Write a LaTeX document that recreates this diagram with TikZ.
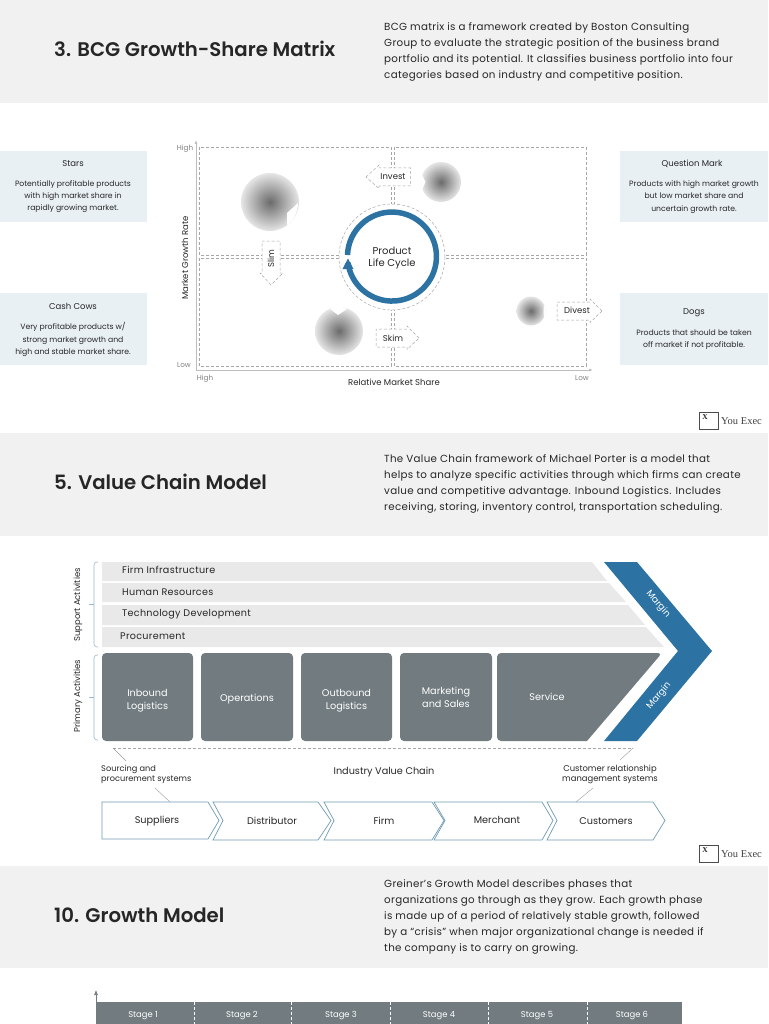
\documentclass[tikz,border=0pt]{standalone}
\usepackage{fontspec}
\setmainfont{Poppins}
\newfontfamily\titlefont{Poppins SemiBold}
\newfontfamily\serifmark{Liberation Serif}
\usetikzlibrary{arrows.meta}
\definecolor{bandgrey}{HTML}{F1F1F1}
\definecolor{infoblue}{HTML}{E9F0F4}
\definecolor{axisgrey}{HTML}{BDBDBD}
\definecolor{dashgrey}{HTML}{A6A6A6}
\definecolor{supportgrey}{HTML}{E9E9E9}
\definecolor{primarygrey}{HTML}{727C80}
\definecolor{marginblue}{HTML}{2C72A2}
\definecolor{chainblue}{HTML}{6F9BB3}
\definecolor{inktext}{HTML}{262626}
\begin{document}
\begin{tikzpicture}[x=1pt,y=-1pt,text=inktext,
  band/.style={fill=bandgrey,draw=none},
  title/.style={anchor=west,inner sep=0pt,font=\titlefont\fontsize{19.7}{22}\selectfont},
  intro/.style={anchor=west,inner sep=0pt,align=left,font=\fontsize{10.3}{15.8}\selectfont\addfontfeature{LetterSpace=3}},
  info/.style={fill=infoblue,inner sep=0pt,minimum width=147pt,minimum height=71.5pt},
  infotext/.style={inner sep=0pt,align=center,font=\fontsize{7.7}{12.3}\selectfont},
  small/.style={inner sep=0pt,font=\fontsize{8.5}{10}\selectfont},
  tiny/.style={inner sep=0pt,text=gray,font=\fontsize{7.2}{8}\selectfont},
  quad/.style={draw=dashgrey,densely dashed,line width=.5pt},
  blockarrow/.style={draw=dashgrey,densely dashed,line width=.5pt,fill=white},
  spot/.style={circle,inner sep=0pt,inner color=black!58,outer color=black!10},
  support/.style={fill=supportgrey,draw=none},
  supporttext/.style={anchor=west,inner sep=0pt,font=\fontsize{9.6}{10}\selectfont\addfontfeature{LetterSpace=3}},
  primary/.style={fill=primarygrey,rounded corners=4pt,inner sep=0pt,text=white,align=center,
    minimum height=88pt,font=\fontsize{9.7}{13}\selectfont},
  bracket/.style={draw=chainblue!70,line width=.6pt},
  thin/.style={draw=gray!80,line width=.4pt},
  chain/.style={draw=chainblue,fill=white,line width=.7pt},
  chaintext/.style={inner sep=0pt,font=\fontsize{9.7}{10}\selectfont},
  note/.style={inner sep=0pt,font=\fontsize{8.2}{10.5}\selectfont},
  stage/.style={inner sep=0pt,text=white,font=\fontsize{8.4}{9}\selectfont},
  ]
\useasboundingbox (0,0) rectangle (768,1024);

% header bands
\fill[band] (0,0) rectangle (768,103);
\fill[band] (0,433) rectangle (768,536);
\fill[band] (0,866) rectangle (768,968);
\node[title] (bcgtitle) at (54,49) {3. BCG Growth-Share Matrix};
\node[title] (chaintitle) at (54,482) {5. Value Chain Model};
\node[title] (growthtitle) at (54,915) {10. Growth Model};
\node[intro] (bcgintro) at (384,52) {BCG matrix is a framework created by Boston Consulting\\Group to evaluate the strategic position of the business brand\\portfolio and its potential. It classifies business portfolio into four\\categories based on industry and competitive position.};
\node[intro] (chainintro) at (384,484) {The Value Chain framework of Michael Porter is a model that\\helps to analyze specific activities through which firms can create\\value and competitive advantage. Inbound Logistics. Includes\\receiving, storing, inventory control, transportation scheduling.};
\node[intro] (growthintro) at (384,917) {Greiner's Growth Model describes phases that\\organizations go through as they grow. Each growth phase\\is made up of a period of relatively stable growth, followed\\by a ``crisis'' when major organizational change is needed if\\the company is to carry on growing.};

% info boxes
\node[info] (stars) at (73,186.5) {};
\node[info] (cows) at (73,329) {};
\node[info,minimum width=148pt] (question) at (694,186.5) {};
\node[info,minimum width=148pt] (dogs) at (694,329) {};
\node[small] (starshead) at (73,164) {Stars};
\node[infotext] (starstext) at (73,196.5) {Potentially profitable products\\with high market share in\\rapidly growing market.};
\node[small] (cowshead) at (73,306) {Cash Cows};
\node[infotext] (cowstext) at (73,339.5) {Very profitable products w/\\strong market growth and\\high and stable market share.};
\node[small] (questionhead) at (692,164) {Question Mark};
\node[infotext] (questiontext) at (694,197) {Products with high market growth\\but low market share and\\uncertain growth rate.};
\node[small] (dogshead) at (694,313) {Dogs};
\node[infotext] (dogstext) at (694,340) {Products that should be taken\\off market if not profitable.};

% matrix
\coordinate (origin) at (196,370);
\coordinate (ytop) at (196,140);
\coordinate (xend) at (593,370);
\draw[axisgrey,line width=.8pt,-{Latex[length=4pt,width=3pt]}] (origin) -- (ytop);
\draw[axisgrey,line width=.8pt,-{Latex[length=4pt,width=3pt]}] (origin) -- (xend);
\draw[quad] (199,147) rectangle (391,255);
\draw[quad] (394,147) rectangle (586,255);
\draw[quad] (199,258) rectangle (391,366);
\draw[quad] (394,258) rectangle (586,366);
\node[tiny] (yhigh) at (185,149) {High};
\node[tiny] (ylow) at (184,365) {Low};
\node[tiny] (xhigh) at (205,379) {High};
\node[tiny] (xlow) at (582,378) {Low};
\node[small,rotate=90] (ylabel) at (185,258) {Market Growth Rate};
\node[small] (xlabel) at (394,382) {Relative Market Share};

% life cycle
\node[circle,draw=dashgrey,densely dashed,line width=.5pt,fill=white,minimum size=106pt,inner sep=0pt] (cycle) at (392,257) {};
\draw[marginblue,line width=5.5pt] (347.5,255) arc[start angle=178,end angle=-172,radius=44.5pt];
\fill[marginblue] (348,258.5) -- (353.5,269) -- (342.5,269) -- cycle;
\node[inner sep=0pt,align=center,font=\fontsize{10}{12.3}\selectfont] (cycletext) at (392,258) {Product\\Life Cycle};

% spots
\node[spot,minimum size=58pt] (spotstar) at (270,202) {};
\fill[white] (298,203) .. controls (292,208) .. (287,213) -- (287,225) .. controls (293,222) and (298,212) .. cycle;
\node[spot,minimum size=40pt] (spotquestion) at (441,182) {};
\fill[white] (421.5,174) -- (425.5,182) -- (422,190) .. controls (420.5,185) and (420.5,178) .. cycle;
\node[spot,minimum size=48pt] (spotcow) at (339,331) {};
\fill[white] (330,309) -- (338,315) -- (347,309) .. controls (343,306) and (334,306) .. cycle;
\node[spot,minimum size=29pt] (spotdog) at (531,311) {};
\fill[white] (544,305) -- (543.5,312) -- (544,318) .. controls (546,313) and (546,309) .. cycle;

% block arrows
\draw[blockarrow] (366,177) -- (379,165) -- (379,168) -- (410.5,168) -- (410.5,186) -- (379,186) -- (379,188.5) -- cycle;
\node[small] (invest) at (393,177) {Invest};
\draw[blockarrow] (271,285) -- (260,273) -- (262,273) -- (262,241) -- (280,241) -- (280,273) -- (283,273) -- cycle;
\node[small,rotate=90] (slim) at (271,259) {Slim};
\draw[blockarrow] (419,338) -- (407,326) -- (407,329) -- (376,329) -- (376,347) -- (407,347) -- (407,349.5) -- cycle;
\node[small] (skim) at (393,338) {Skim};
\draw[blockarrow] (602,311) -- (590,299) -- (590,302) -- (557,302) -- (557,320) -- (590,320) -- (590,322.5) -- cycle;
\node[small] (divest) at (577,310.5) {Divest};

% support activities
\fill[support] (102,562) -- (592,562) -- (607,581) -- (102,581) -- cycle;
\fill[support] (102,583) -- (609,583) -- (626,602) -- (102,602) -- cycle;
\fill[support] (102,605) -- (628,605) -- (645,625) -- (102,625) -- cycle;
\fill[support] (102,627) -- (646,627) -- (664,647) -- (102,647) -- cycle;
\node[supporttext] (firm) at (122,570) {Firm Infrastructure};
\node[supporttext] (human) at (122,592.5) {Human Resources};
\node[supporttext] (technology) at (122,614.5) {Technology Development};
\node[supporttext] (procurement) at (120,636.5) {Procurement};

% primary activities
\node[primary,minimum width=91pt] (inbound) at (147.5,697) {\rule{0pt}{15pt}Inbound\\Logistics};
\node[primary,minimum width=92pt] (operations) at (247,697) {\rule{0pt}{12pt}Operations};
\node[primary,minimum width=91pt] (outbound) at (346.5,697) {\rule{0pt}{15pt}Outbound\\Logistics};
\node[primary,minimum width=92pt] (marketing) at (446,697) {Marketing\\and Sales};
\fill[primarygrey,rounded corners=4pt] (497,653) -- (662,653) [sharp corners] -- (587,741) [rounded corners=4pt] -- (497,741) -- cycle;
\node[chaintext,text=white] (service) at (547,697) {Service};

% margin
\fill[marginblue] (604,562) -- (637,562) -- (712,651) -- (637,741) -- (604,741) -- (678,651) -- cycle;
\node[chaintext,text=white,font=\fontsize{9.2}{10}\selectfont,rotate=-50] (margintop) at (658,604) {Margin};
\node[chaintext,text=white,font=\fontsize{9.2}{10}\selectfont,rotate=50] (marginbottom) at (659,696) {Margin};

% brackets
\draw[bracket,rounded corners=3pt] (98,562) -- (94,562) -- (94,647) -- (98,647);
\draw[bracket] (94,604) -- (89,604);
\draw[bracket,rounded corners=3pt] (98,655) -- (94,655) -- (94,740) -- (98,740);
\draw[bracket] (94,697) -- (89,697);
\node[small,rotate=90] (supportlabel) at (78,605) {Support Activities};
\node[small,rotate=90] (primarylabel) at (78,696) {Primary Activities};

% industry value chain
\coordinate (dashleft) at (113,748);
\coordinate (dashright) at (633,748);
\draw[dashgrey,densely dashed,line width=.5pt] (dashleft) -- (dashright);
\node[note,align=left,anchor=west] (sourcing) at (101,774.5) {Sourcing and\\procurement systems};
\node[note,align=center,font=\fontsize{8.4}{10.5}\selectfont] (customerrel) at (610,774.5) {Customer relationship\\management systems};
\node[chaintext] (industry) at (384,772.5) {Industry Value Chain};
\coordinate (sourcingtop) at (126,761);
\coordinate (sourcingbot) at (155,788);
\coordinate (supplierstop) at (170,802);
\coordinate (customertop) at (620,760);
\coordinate (customerbot) at (593,788);
\coordinate (customerstop) at (576,802);
\draw[thin] (dashleft) -- (sourcingtop);
\draw[thin] (sourcingbot) -- (supplierstop);
\draw[thin] (dashright) -- (customertop);
\draw[thin] (customerbot) -- (customerstop);

% chevrons
\draw[chain] (102,802) -- (208,802) -- (219,820.5) -- (208,839) -- (102,839) -- cycle;
\draw[chain] (213,802) -- (318,802) -- (331,820.5) -- (318,840) -- (213,840) -- (223,820.5) -- cycle;
\draw[chain] (324,802) -- (432,802) -- (444,820.5) -- (432,840) -- (324,840) -- (334,820.5) -- cycle;
\draw[chain] (434,802) -- (542,802) -- (553,820.5) -- (542,840) -- (434,840) -- (445,820.5) -- cycle;
\draw[chain] (547,802) -- (653,802) -- (665,820.5) -- (653,840) -- (547,840) -- (557,820.5) -- cycle;
\node[chaintext] (suppliers) at (157,821) {Suppliers};
\node[chaintext] (distributor) at (272,821) {Distributor};
\node[chaintext] (firmstep) at (384,821) {Firm};
\node[chaintext] (merchant) at (497,820) {Merchant};
\node[chaintext] (customers) at (606,821) {Customers};

% stages
\coordinate (stagecorner) at (96,1002);
\coordinate (stagearrow) at (96,990);
\fill[primarygrey] (stagecorner) rectangle (682,1024);
\draw[primarygrey,line width=.6pt,-{Latex[length=5pt,width=4pt]}] (96,1006) -- (stagearrow);
\foreach \sx in {194,291,390,488,587}
  \draw[white,densely dashed,line width=.5pt] (\sx,1002) -- (\sx,1024);
\node[stage] (stageone) at (143,1016) {Stage 1};
\node[stage] (stagetwo) at (242,1016) {Stage 2};
\node[stage] (stagethree) at (341,1016) {Stage 3};
\node[stage] (stagefour) at (439,1016) {Stage 4};
\node[stage] (stagefive) at (537,1016) {Stage 5};
\node[stage] (stagesix) at (632,1016) {Stage 6};

% marks
\node[draw=black!70,line width=.5pt,minimum width=19pt,minimum height=17pt,inner sep=0pt] (markone) at (708.5,420.5) {};
\node[inner sep=0pt,font=\serifmark\bfseries\fontsize{7.5}{8}\selectfont] (xone) at (705,417) {X};
\node[inner sep=0pt,anchor=west,text=black!75,font=\serifmark\fontsize{10.5}{11}\selectfont] (execone) at (721,421) {You Exec};
\node[draw=black!70,line width=.5pt,minimum width=19pt,minimum height=17pt,inner sep=0pt] (marktwo) at (708.5,853.5) {};
\node[inner sep=0pt,font=\serifmark\bfseries\fontsize{7.5}{8}\selectfont] (xtwo) at (705,850) {X};
\node[inner sep=0pt,anchor=west,text=black!75,font=\serifmark\fontsize{10.5}{11}\selectfont] (exectwo) at (721,854) {You Exec};
\end{tikzpicture}
\end{document}
